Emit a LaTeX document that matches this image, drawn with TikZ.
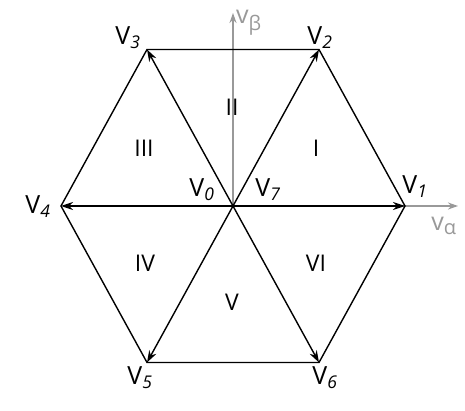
\documentclass[tikz,border=0pt]{standalone}
\usepackage{fontspec}
\setmainfont{Open Sans}
\usepackage{xcolor}
\usepackage{tikz}
\usetikzlibrary{
	positioning,    % posizionamento relativo
	arrows.meta     % frecce Stealth
}
\definecolor{grigioasse}{HTML}{999999}

\begin{document}
\begin{tikzpicture}[
			x=1pt, y=1pt,
			font=\fontsize{25}{28}\selectfont,
			vettore/.style={-{Stealth[length=12pt, width=8pt]}, line width=1.4pt},
			lato/.style={line width=1.4pt, line join=miter},
			% Stile per gli assi alpha-beta
			asse/.style={-{Stealth[length=10pt, width=7pt]}, line width=1.8pt, grigioasse},
			settore/.style={font=\fontsize{23}{26}\selectfont}
			]
			\useasboundingbox (-233,-205) rectangle (232,206);
			
			% --- Vertici dell'esagono ---
			\coordinate (O) at (0,0);
			\coordinate (V1) at (172,0);
			\coordinate (V2) at (86,156.5);
			\coordinate (V3) at (-86,156.5);
			\coordinate (V4) at (-172,0);
			\coordinate (V5) at (-86,-156.5);
			\coordinate (V6) at (86,-156.5);
			
			% --- Assi ---
			\coordinate (Aalfa) at (225,0);
			\coordinate (Abeta) at (0,193);
			\draw[asse] (O) -- (Aalfa);
			\draw[asse] (O) -- (Abeta);
			\node[grigioasse] (lalfa) at (211,-20) {v\textsubscript{\fontsize{20}{22}\selectfont α}};
			\node[grigioasse] (lbeta) at (16,183) {v\textsubscript{\fontsize{20}{22}\selectfont β}};
			
			% --- Esagono ---
			\draw[lato] (V1) -- (V2) -- (V3) -- (V4) -- (V5) -- (V6) -- cycle;
			
			% --- Vettori ---
			\foreach \k in {1,...,6}
			\draw[vettore] (O) -- (V\k);
			
			% --- Etichette dei vettori ---
			\node (lV1) at (182,19) {V\textsubscript{\textit{1}}};
			\node (lV2) at (87,168) {V\textsubscript{\textit{2}}};
			\node (lV3) at (-105,168) {V\textsubscript{\textit{3}}};
			\node (lV4) at (-195,-1) {V\textsubscript{\textit{4}}};
			\node (lV5) at (-93,-172) {V\textsubscript{\textit{5}}};
			\node (lV6) at (92,-172) {V\textsubscript{\textit{6}}};
			\node (lV0) at (-31,16) {V\textsubscript{\textit{0}}};
			\node (lV7) at (35,16) {V\textsubscript{\textit{7}}};
			
			% --- Settori ---
			\node[settore] (sI) at (83,58) {I};
			\node[settore] (sII) at (-1,99) {II};
			\node[settore] (sIII) at (-89,58) {III};
			\node[settore] (sIV) at (-88,-57) {IV};
			\node[settore] (sV) at (-1,-96) {V};
			\node[settore] (sVI) at (83,-57) {VI};
			
		\end{tikzpicture}
\end{document}
